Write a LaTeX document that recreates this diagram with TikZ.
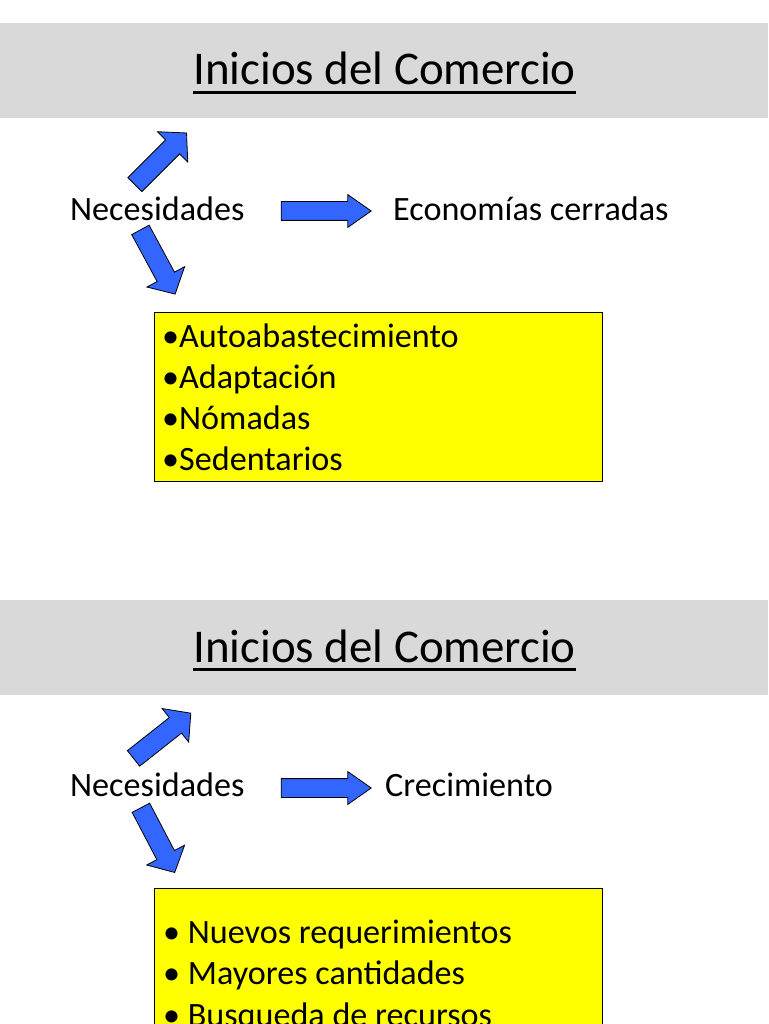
\documentclass[tikz,border=0pt]{standalone}
\usepackage{fontspec}
\setmainfont{Carlito}
\usetikzlibrary{shapes.arrows}
\definecolor{gris}{RGB}{217,217,217}
\definecolor{azul}{RGB}{51,102,255}
\definecolor{amarillo}{RGB}{255,255,0}
\tikzset{
  banda/.style={fill=gris, draw=none},
  titulo/.style={inner sep=0pt, anchor=base, font=\fontsize{46.93}{56}\selectfont},
  texto/.style={inner sep=0pt, anchor=base west, font=\fontsize{34.13}{41}\selectfont},
  caja/.style={draw=black, fill=amarillo, line width=0.9pt, anchor=north west,
    minimum width=448pt, inner sep=0pt},
  flecha/.style={single arrow, draw=black, fill=azul, line width=0.8pt, inner sep=0pt,
    text height=19pt, text depth=0pt, single arrow head extend=11.5pt,
    single arrow tip angle=95, minimum height=73pt},
  flechader/.style={flecha, text height=18pt, single arrow head extend=7pt,
    single arrow tip angle=70, minimum height=90pt}
}
\begin{document}
\begin{tikzpicture}[x=1pt, y=-1pt]
\useasboundingbox (0,0) rectangle (768,1024);
\clip (0,0) rectangle (768,1024);

% primera lamina
\fill[banda] (0,23) rectangle (768,118);
\node[titulo] (tit1) at (384.5,85) {Inicios del Comercio};
\draw[line width=2.6pt] ([yshift=-7.5pt]tit1.base west) -- ([yshift=-7.5pt]tit1.base east);

\node[texto] (nec1) at (70,220.5) {Necesidades};
\node[texto] (eco1) at (393,220.5) {Economías cerradas};
\node[flechader] (der1) at (319.5,211) {};
\node[flecha, rotate=45] (arr1) at (157.5,162) {};
\node[flecha, rotate=-61.6] (aba1) at (155.6,258) {};

\node[caja, minimum height=169pt] (caja1) at (154,312) {};
\foreach \t [count=\i] in {Autoabastecimiento, Adaptación, Nómadas, Sedentarios}
  \node[texto] (lista1-\i) at (162,{347+41.3*(\i-1)}) {•\t};

% segunda lamina
\fill[banda] (0,600) rectangle (768,695);
\node[titulo] (tit2) at (384.5,662) {Inicios del Comercio};
\draw[line width=2.6pt] ([yshift=-7.5pt]tit2.base west) -- ([yshift=-7.5pt]tit2.base east);

\node[texto] (nec2) at (70,796.5) {Necesidades};
\node[texto] (crec2) at (385,796.5) {Crecimiento};
\node[flechader] (der2) at (319.5,788) {};
\node[flecha, rotate=38.3] (arr2) at (158.6,738.6) {};
\node[flecha, rotate=-62.4] (aba2) at (155.7,836.1) {};

\node[caja, minimum height=220pt] (caja2) at (154,888) {};
\foreach \t [count=\i] in {Nuevos requerimientos, Mayores cantidades, Busqueda de recursos}
  \node[texto] (lista2-\i) at (163,{943+41.5*(\i-1)}) {• \t};
\end{tikzpicture}
\end{document}
